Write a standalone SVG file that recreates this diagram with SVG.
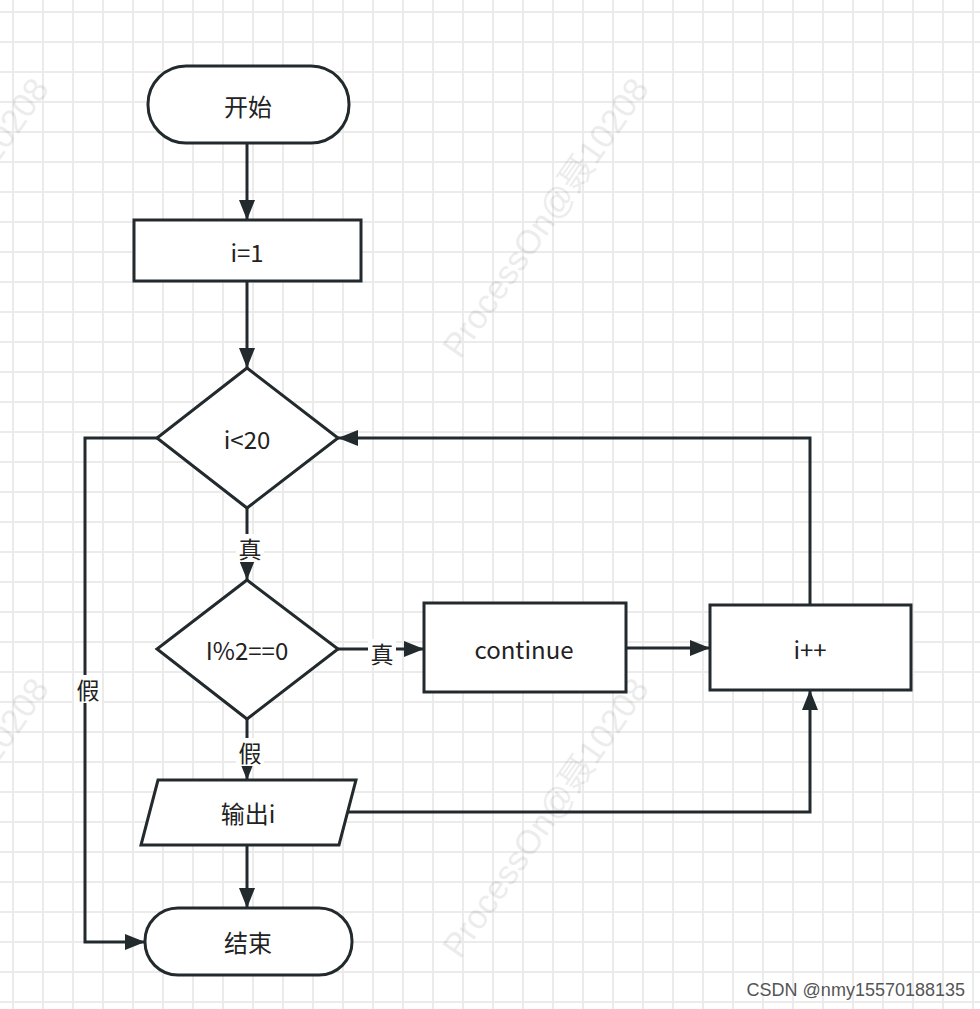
<svg xmlns="http://www.w3.org/2000/svg" width="980" height="1009" viewBox="0 0 980 1009">
<style>
.n{fill:#fff;stroke:#222a2e;stroke-width:3}
.t{font-family:"Noto Sans CJK SC","Liberation Sans",sans-serif;font-size:24px;fill:#222;text-anchor:middle;dominant-baseline:central}
.c{fill:none;stroke:#222a2e;stroke-width:3}
.lb{font-family:"Noto Sans CJK SC",sans-serif;font-size:23px;fill:#222;text-anchor:middle;dominant-baseline:central}
.wm{font-family:"Liberation Sans","Noto Sans CJK SC",sans-serif;font-size:34px;fill:#000;opacity:0.07}
</style>
<defs>
<pattern id="g" x="12" y="11" width="30" height="30" patternUnits="userSpaceOnUse">
<rect x="0" y="0" width="30" height="2" fill="#ebebeb"/>
<rect x="0" y="0" width="2" height="30" fill="#ebebeb"/>
</pattern>
<marker id="ah" viewBox="0 0 20 20" refX="20" refY="10" markerWidth="20" markerHeight="20" orient="auto" markerUnits="userSpaceOnUse">
<path d="M0 2L20 10L0 18z" fill="#222a2e"/>
</marker>
</defs>
<rect width="980" height="1009" fill="#fff"/>
<rect width="980" height="1009" fill="url(#g)"/>
<g>
<text class="wm" transform="translate(-140,360) rotate(-55)">ProcessOn@聂10208</text>
<text class="wm" transform="translate(460,360) rotate(-55)">ProcessOn@聂10208</text>
<text class="wm" transform="translate(-140,960) rotate(-55)">ProcessOn@聂10208</text>
<text class="wm" transform="translate(460,960) rotate(-55)">ProcessOn@聂10208</text>
</g>
<g id="connectors">
<path class="c" d="M247 143V220" marker-end="url(#ah)"/>
<path class="c" d="M247 281V368" marker-end="url(#ah)"/>
<path class="c" d="M247 508V580" marker-end="url(#ah)"/>
<path class="c" d="M338 649H424" marker-end="url(#ah)"/>
<path class="c" d="M626 648H710" marker-end="url(#ah)"/>
<path class="c" d="M810 605V438H338" marker-end="url(#ah)"/>
<path class="c" d="M345 812H810V690" marker-end="url(#ah)"/>
<path class="c" d="M247 719V780" marker-end="url(#ah)"/>
<path class="c" d="M247 845V908" marker-end="url(#ah)"/>
<path class="c" d="M157 438H85V942H145" marker-end="url(#ah)"/>
<rect x="236" y="534" width="28" height="28" fill="#fff"/>
<text class="lb" x="250" y="548">真</text>
<rect x="368" y="639" width="28" height="28" fill="#fff"/>
<text class="lb" x="382" y="653">真</text>
<rect x="236" y="738" width="28" height="28" fill="#fff"/>
<text class="lb" x="250" y="752">假</text>
<rect x="74" y="675" width="28" height="28" fill="#fff"/>
<text class="lb" x="88" y="689">假</text>
</g>
<g id="start"><rect class="n" x="148" y="66" width="201" height="77" rx="38"/><text class="t" x="248" y="105">开始</text></g>
<g id="init"><rect class="n" x="134" y="220" width="227" height="61"/><text class="t" x="247" y="251">i=1</text></g>
<g id="cond1"><path class="n" d="M247 368L338 438L247 508L157 438Z"/><text class="t" x="247" y="438">i&lt;20</text></g>
<g id="cond2"><path class="n" d="M247 580L338 649L247 719L157 649Z"/><text class="t" x="247" y="649">I%2==0</text></g>
<g id="cont"><rect class="n" x="424" y="603" width="202" height="89"/><text class="t" x="524" y="648">continue</text></g>
<g id="inc"><rect class="n" x="710" y="605" width="201" height="85"/><text class="t" x="810" y="648">i++</text></g>
<g id="out"><path class="n" d="M158 780H356L339 845H141Z"/><text class="t" x="248" y="812">输出i</text></g>
<g id="end"><rect class="n" x="145" y="908" width="207" height="67" rx="33"/><text class="t" x="248" y="941">结束</text></g>
<text x="965" y="996" font-family="Liberation Sans,sans-serif" font-size="18" fill="#555" text-anchor="end">CSDN @nmy15570188135</text>
</svg>
